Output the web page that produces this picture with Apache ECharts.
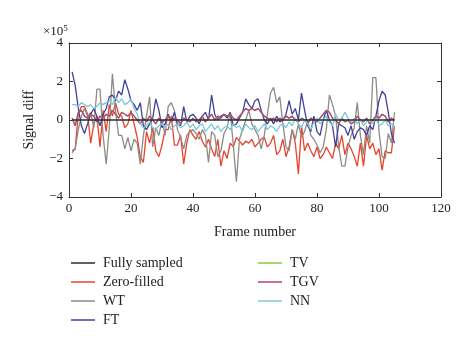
<!DOCTYPE html>
<html><head><meta charset="utf-8">
<script src="https://cdn.jsdelivr.net/npm/echarts@6/dist/echarts.min.js"></script>
<style>html,body{margin:0;padding:0;background:#fff}#c{width:474px;height:346px}</style>
</head><body><div id="c"></div>
<script>
const xTicks = [0, 20, 40, 60, 80, 100, 120];
const yTicks = [-4, -2, 0, 2, 4];
const seriesNames = ['Fully sampled', 'Zero-filled', 'WT', 'FT', 'TV', 'TGV', 'NN'];

const fullySampled = [0,0,0,0,0,0,0,0,0,0, 0,0,0,0,0,0,0,0,0,0, 0,0,0,0,0,0,0,0,0,0, 0,0,0,0,0,0,0,0,0,0,
 0,0,0,0,0,0,0,0,0,0, 0,0,0,0,0,0,0,0,0,0, 0,0,0,0,0,0,0,0,0,0, 0,0,0,0,0,0,0,0,0,0,
 0,0,0,0,0,0,0,0,0,0, 0,0,0,0,0,0,0,0,0,0, 0,0,0,0,0];
const zeroFilled = [-1.6,-1.5,0.3,0.7,0.7,0.3,-1.2,-0.2,0.2,-1.4,
 0.5,-0.6,0.8,0.2,0.9,0.3,0.2,-0.4,-0.2,0.5,
 -0.2,-0.9,-1.9,-2.2,-0.6,-1.2,-0.4,-1.6,-1.9,-1.3,
 -0.5,-0.5,0.2,-1.3,-1.3,-0.8,-2.3,-1.2,-0.5,-0.8,
 -1.0,-0.6,-1.1,-1.4,-1.0,-1.5,-1.9,-1.0,-2.4,-1.6,
 -2.0,-1.2,-1.4,-0.9,-1.1,-1.3,-1.1,-1.2,-1.0,-1.4,
 -1.2,-1.0,-0.9,-1.4,-1.2,-0.8,-1.8,-1.6,-1.0,-1.9,
 -1.4,-0.5,-1.2,-2.8,-0.3,-1.6,-1.2,-1.6,-1.9,-1.4,
 -2.0,-1.8,-1.4,-1.7,-2.0,-1.2,-1.5,-0.8,-1.8,-1.2,
 -1.5,-1.9,-2.4,-1.2,-2.4,-0.8,-1.5,-1.2,-1.8,-1.5,
 -2.6,-1.6,-1.7,-1.7,-0.3];
const wt = [-1.7,-1.5,-0.5,0.2,0.6,0.2,0.4,-0.4,1.6,1.6,
 -0.8,-2.3,-0.4,2.4,0.5,-0.8,-0.8,-1.5,-0.9,-1.6,
 -1.0,-1.2,-2.3,-0.8,0.2,1.2,-1.4,-0.4,-0.8,0.0,
 -0.8,0.7,0.9,0.5,-0.5,-0.9,-1.5,-0.8,-0.6,-0.5,
 -0.7,-1.0,-0.5,-0.8,-2.2,-0.6,-0.8,-1.9,-1.6,-0.7,
 -0.4,0.4,-1.3,-3.2,-1.0,-0.5,0.0,0.5,-0.2,-0.5,
 -0.8,-1.5,-0.8,0.3,1.4,1.7,0.9,1.2,-0.2,-1.4,
 -1.6,-0.5,-1.0,-0.2,-0.9,-0.6,0.0,-0.8,-1.0,-1.3,
 -1.7,-1.4,-0.5,1.3,0.8,0.2,-1.4,-2.4,-2.4,-1.4,
 -0.8,-0.4,0.9,-0.8,-1.8,-0.3,-1.2,2.2,2.2,-0.6,
 -1.9,-2.0,-0.7,-1.2,0.4];
const ft = [2.5,1.8,0.6,-0.3,-0.7,-0.2,0.3,0.6,0.2,-0.3,
 0.3,0.6,1.2,1.3,1.0,1.5,1.3,2.1,1.6,1.0,
 0.8,0.5,0.9,-0.3,-0.5,-0.2,0.1,1.1,0.5,-0.4,
 -0.2,0.3,-0.1,0.4,-0.2,-0.3,0.7,-0.1,0.2,0.3,
 0.1,-0.2,0.2,0.4,0.0,1.3,0.3,0.0,0.2,0.3,
 0.1,0.4,-0.3,-0.2,0.1,0.4,1.1,0.8,0.6,1.0,
 1.1,0.5,0.0,-0.2,0.1,-0.2,0.2,-0.1,0.0,0.3,
 1.0,0.3,0.6,0.0,1.4,0.5,-0.3,-0.6,0.2,-0.6,
 -0.8,0.0,0.5,0.0,-0.3,-1.4,-0.2,-0.3,-0.4,-0.8,
 -0.3,-1.0,-0.6,-0.4,-0.5,-0.8,-0.3,-0.5,0.2,1.0,
 1.5,1.3,0.4,-0.7,-1.2];
const tv = [0.1,-0.3,0.4,0.5,0.2,0.1,0.3,0.2,-0.1,0.2,
 0.1,0.3,0.2,0.5,0.3,0.1,0.4,0.3,0.2,0.4,
 0.2,0.0,-0.2,0.1,-0.1,0.2,0.0,-0.2,0.1,-0.1,
 0.0,0.2,-0.1,0.1,0.0,-0.2,0.1,0.0,-0.1,0.1,
 -0.1,0.0,0.2,-0.1,0.1,0.3,0.0,0.2,0.1,0.3,
 0.2,0.3,0.1,0.0,0.2,0.4,0.6,0.5,0.6,0.5,
 0.6,0.4,0.2,0.1,0.0,0.1,-0.1,0.1,0.0,0.2,
 0.1,0.2,0.0,-0.1,0.1,0.0,-0.2,0.1,0.0,-0.1,
 0.1,0.3,0.5,0.4,0.1,0.0,-0.2,0.1,-0.1,0.0,
 -0.2,-0.1,0.2,0.0,-0.1,0.1,-0.2,0.0,0.2,0.1,
 0.3,0.2,-0.1,0.1,0.0];
const tgv = [0.1,-0.3,0.4,0.5,0.2,0.1,0.3,0.2,-0.1,0.2,
 0.1,0.3,0.2,0.5,0.3,0.1,0.4,0.3,0.2,0.4,
 0.2,0.0,-0.2,0.1,-0.1,0.2,0.0,-0.2,0.1,-0.1,
 0.0,0.2,-0.1,0.1,0.0,-0.2,0.1,0.0,-0.1,0.1,
 -0.1,0.0,0.2,-0.1,0.1,0.3,0.0,0.2,0.1,0.3,
 0.2,0.3,0.1,0.0,0.2,0.4,0.6,0.5,0.6,0.5,
 0.6,0.4,0.2,0.1,0.0,0.1,-0.1,0.1,0.0,0.2,
 0.1,0.2,0.0,-0.1,0.1,0.0,-0.2,0.1,0.0,-0.1,
 0.1,0.3,0.5,0.4,0.1,0.0,-0.2,0.1,-0.1,0.0,
 -0.2,-0.1,0.2,0.0,-0.1,0.1,-0.2,0.0,0.2,0.1,
 0.3,0.2,-0.1,0.1,0.0];
const nn = [0.8,0.8,0.7,0.9,0.8,0.7,0.8,0.6,0.7,0.9,
 0.8,0.9,1.0,0.8,1.2,0.9,1.1,0.8,0.9,1.1,
 0.6,0.3,-0.2,-0.4,-0.3,-0.1,-0.4,-0.5,-0.3,-0.2,
 -0.4,-0.2,-0.5,-0.3,-0.2,-0.4,-0.3,-0.1,-0.4,-0.2,
 -0.5,-0.3,-0.2,-0.6,-0.4,-0.2,-0.5,-0.3,-0.6,-0.4,
 -0.3,-0.5,-0.2,-0.4,-0.3,-0.6,-0.2,-0.4,-0.5,-0.3,
 -0.6,-0.4,-0.2,-0.5,-0.3,-0.4,-0.6,-0.3,-0.2,-0.4,
 -0.1,-0.3,0.1,-0.2,-0.4,0.0,-0.2,-0.5,-0.1,0.1,
 -0.2,0.0,0.2,-0.1,-0.3,0.3,0.0,0.1,0.4,0.1,
 -0.1,0.1,-0.2,0.0,-0.3,-0.1,0.0,-0.2,0.1,-0.3,
 -0.2,0.0,-0.3,-0.2,-0.4];

const values = [fullySampled, zeroFilled, wt, ft, tv, tgv, nn];
const colors = ['#2b2b2b', '#e8432c', '#908a86', '#40409a', '#8cc63f', '#b4437f', '#7ec9d9'];
const zOrder = [10, 2, 3, 4, 5, 6, 7];
const FONT = '"Liberation Serif", "DejaVu Serif", serif';
const txt = '#222';

const chart = echarts.init(document.getElementById('c'));
function axisBase() {
  return {
    type: 'value',
    axisLine: { show: true, onZero: false, lineStyle: { color: '#333', width: 1 } },
    axisTick: { show: true, inside: true, length: 4, lineStyle: { color: '#333' } },
    splitLine: { show: false }
  };
}
chart.setOption({
  animation: false,
  backgroundColor: '#fff',
  grid: { left: 69, right: 33, top: 43, bottom: 149, containLabel: false },
  xAxis: [
    Object.assign(axisBase(), {
      position: 'bottom',
      min: xTicks[0], max: xTicks[xTicks.length - 1], interval: 20,
      name: 'Frame number', nameLocation: 'middle', nameGap: 28,
      nameTextStyle: { fontFamily: FONT, fontSize: 14, color: txt },
      axisLabel: { fontFamily: FONT, fontSize: 13, color: txt, margin: 5 }
    }),
    Object.assign(axisBase(), {
      position: 'top', min: xTicks[0], max: xTicks[xTicks.length - 1], interval: 20,
      axisLabel: { show: false }
    })
  ],
  yAxis: [
    Object.assign(axisBase(), {
      position: 'left',
      min: yTicks[0], max: yTicks[yTicks.length - 1], interval: 2,
      name: 'Signal diff', nameLocation: 'middle', nameGap: 33, nameRotate: 90,
      nameTextStyle: { fontFamily: FONT, fontSize: 14, color: txt },
      axisLabel: { fontFamily: FONT, fontSize: 13, color: txt, margin: 6,
        formatter: v => v < 0 ? '\u2212' + Math.abs(v) : String(v) }
    }),
    Object.assign(axisBase(), {
      position: 'right', min: yTicks[0], max: yTicks[yTicks.length - 1], interval: 2,
      axisLabel: { show: false }
    })
  ],
  legend: [
    {
      data: seriesNames.slice(0, 4), orient: 'vertical', left: 66, top: 251,
      icon: 'rect', itemWidth: 24, itemHeight: 1.5, itemGap: 5,
      textStyle: { fontFamily: FONT, fontSize: 14, color: txt, padding: [0, 0, 0, 3] },
      selectedMode: false
    },
    {
      data: seriesNames.slice(4), orient: 'vertical', left: 253, top: 251,
      icon: 'rect', itemWidth: 24, itemHeight: 1.5, itemGap: 5,
      textStyle: { fontFamily: FONT, fontSize: 14, color: txt, padding: [0, 0, 0, 3] },
      selectedMode: false
    }
  ],
  graphic: [{
    type: 'text', left: 43, top: 24,
    style: {
      text: '\u00d710{s|5}', fontFamily: FONT, fontSize: 13, fill: txt,
      rich: { s: { fontFamily: FONT, fontSize: 9, verticalAlign: 'top', padding: [0, 0, 6, 0] } }
    }
  }],
  series: seriesNames.map((n, i) => ({
    name: n, type: 'line', showSymbol: false, symbol: 'none',
    z: zOrder[i],
    lineStyle: { color: colors[i], width: 1.3 },
    itemStyle: { color: colors[i] },
    data: values[i].map((v, k) => [k + 1, v])
  }))
});
</script></body></html>
